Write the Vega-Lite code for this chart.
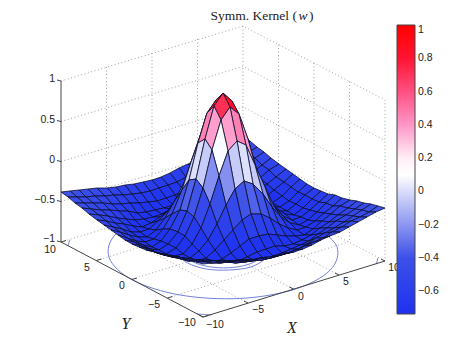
{"$schema":"https://vega.github.io/schema/vega-lite/v6.json","width":474,"height":355,"padding":0,"autosize":{"type":"none"},"background":"white","view":{"stroke":null},
"datasets":{
"grid":[{"c":1,"p":[[61,81],[243,26],[385,100],[385,261],[243,187],[61,242]]},{"c":2,"p":[[243,26],[243,187]]},{"c":3,"p":[[61,121.5],[243,66.5],[385,140.5]]},{"c":4,"p":[[61,161.5],[243,107],[385,181]]},{"c":5,"p":[[61,201.5],[243,147],[385,221]]},{"c":6,"p":[[106.5,67],[106.5,228]]},{"c":7,"p":[[152,53],[152,214]]},{"c":8,"p":[[197.5,39],[197.5,200]]},{"c":9,"p":[[278.5,44.5],[278.5,205.5]]},{"c":10,"p":[[314,63],[314,224]]},{"c":11,"p":[[349.5,81.5],[349.5,242.5]]},{"c":12,"p":[[248,303],[106,228]]},{"c":13,"p":[[293.5,289],[151.5,214]]},{"c":14,"p":[[339,275],[197,200]]},{"c":15,"p":[[167.5,298],[348.5,242]]},{"c":16,"p":[[132,279],[313,224]]},{"c":17,"p":[[96.5,260.5],[277.5,205]]}],
"rings":[{"c":1,"p":[[313.5,224],[265.9,209],[206.8,205.5],[152,214.5],[116.3,233.5],[109.1,257.5],[132.5,280],[180.1,295],[239.3,298.5],[294,289.5],[329.8,270.5],[336.9,246.5],[313.5,224]]},{"c":2,"p":[[258.3,241],[239.7,235],[216.7,234],[195.3,237],[181.4,245],[178.6,254],[187.7,263],[206.3,269],[229.4,270],[250.7,267],[264.7,259],[267.4,250],[258.3,241]]},{"c":3,"p":[[253.8,242.5],[237.6,237.4],[217.5,236.2],[198.9,239.3],[186.7,245.7],[184.3,253.9],[192.2,261.5],[208.4,266.6],[228.5,267.8],[247.1,264.8],[259.3,258.3],[261.7,250.1],[253.8,242.5]]},{"c":4,"p":[[68.2,246],[68.8,242.9],[70,239.8]]},{"c":5,"p":[[196.8,313.9],[204.4,314.5],[212.1,314.8]]},{"c":6,"p":[[377.8,257.9],[377.2,261.1],[375.9,264.2]]}],
"axes":[{"c":1,"p":[[61,81],[61,242],[203,317],[385,261]]},{"c":2,"p":[[61,81],[57,80]]},{"c":3,"p":[[61,121.5],[57,120.5]]},{"c":4,"p":[[61,161.5],[57,160.5]]},{"c":5,"p":[[61,201.5],[57,200.5]]},{"c":6,"p":[[61,242],[57,241]]},{"c":7,"p":[[96.5,260.5],[101.5,259]]},{"c":8,"p":[[132,279.5],[137,278]]},{"c":9,"p":[[167.5,298],[172.5,296.5]]},{"c":10,"p":[[203,317],[208,315.5]]},{"c":11,"p":[[203,317],[199,315]]},{"c":12,"p":[[248,303],[244,301]]},{"c":13,"p":[[293.5,289],[289.5,287]]},{"c":14,"p":[[339,275],[335,273]]},{"c":15,"p":[[385,261],[381,259]]},{"c":16,"p":[[61,242],[66,240.5]]}],
"cells":[
{"c":1,"v":-0.41,"p":[[241,147],[250,141],[243,136],[234,140]]},{"c":2,"v":-0.44,"p":[[232,152],[241,147],[234,140],[225,145]]},{"c":3,"v":-0.47,"p":[[223,157],[232,152],[225,145],[216,150]]},{"c":4,"v":-0.5,"p":[[214,162],[223,157],[216,150],[207,155]]},{"c":5,"v":-0.53,"p":[[205,167],[214,162],[207,155],[198,160]]},{"c":6,"v":-0.56,"p":[[196,173],[205,167],[198,160],[188,164]]},{"c":7,"v":-0.58,"p":[[186,177],[196,173],[188,164],[179,168]]},{"c":8,"v":-0.6,"p":[[177,182],[186,177],[179,168],[170,173]]},{"c":9,"v":-0.61,"p":[[168,185],[177,182],[170,173],[161,177]]},{"c":10,"v":-0.62,"p":[[159,188],[168,185],[161,177],[152,180]]},{"c":11,"v":-0.61,"p":[[150,191],[159,188],[152,180],[143,182]]},{"c":12,"v":-0.6,"p":[[141,193],[150,191],[143,182],[134,184]]},{"c":13,"v":-0.58,"p":[[132,194],[141,193],[134,184],[125,185]]},{"c":14,"v":-0.56,"p":[[123,195],[132,194],[125,185],[116,187]]},{"c":15,"v":-0.53,"p":[[114,195],[123,195],[116,187],[107,188]]},{"c":16,"v":-0.5,"p":[[105,196],[114,195],[107,188],[97,188]]},{"c":17,"v":-0.47,"p":[[95,196],[105,196],[97,188],[88,189]]},{"c":18,"v":-0.44,"p":[[86,197],[95,196],[88,189],[79,190]]},{"c":19,"v":-0.41,"p":[[77,197],[86,197],[79,190],[70,191]]},{"c":20,"v":-0.39,"p":[[68,197],[77,197],[70,191],[61,192]]},
{"c":21,"v":-0.44,"p":[[248,153],[257,147],[250,141],[241,147]]},{"c":22,"v":-0.48,"p":[[239,158],[248,153],[241,147],[232,152]]},{"c":23,"v":-0.51,"p":[[230,164],[239,158],[232,152],[223,157]]},{"c":24,"v":-0.55,"p":[[221,170],[230,164],[223,157],[214,162]]},{"c":25,"v":-0.59,"p":[[212,176],[221,170],[214,162],[205,167]]},{"c":26,"v":-0.62,"p":[[203,181],[212,176],[205,167],[196,173]]},{"c":27,"v":-0.65,"p":[[194,186],[203,181],[196,173],[186,177]]},{"c":28,"v":-0.68,"p":[[184,191],[194,186],[186,177],[177,182]]},{"c":29,"v":-0.69,"p":[[175,195],[184,191],[177,182],[168,185]]},{"c":30,"v":-0.69,"p":[[166,198],[175,195],[168,185],[159,188]]},{"c":31,"v":-0.69,"p":[[157,201],[166,198],[159,188],[150,191]]},{"c":32,"v":-0.68,"p":[[148,202],[157,201],[150,191],[141,193]]},{"c":33,"v":-0.65,"p":[[139,203],[148,202],[141,193],[132,194]]},{"c":34,"v":-0.62,"p":[[130,203],[139,203],[132,194],[123,195]]},{"c":35,"v":-0.59,"p":[[121,204],[130,203],[123,195],[114,195]]},{"c":36,"v":-0.55,"p":[[112,204],[121,204],[114,195],[105,196]]},{"c":37,"v":-0.51,"p":[[103,203],[112,204],[105,196],[95,196]]},{"c":38,"v":-0.48,"p":[[93,203],[103,203],[95,196],[86,197]]},{"c":39,"v":-0.44,"p":[[84,203],[93,203],[86,197],[77,197]]},{"c":40,"v":-0.41,"p":[[75,203],[84,203],[77,197],[68,197]]},
{"c":41,"v":-0.47,"p":[[255,158],[264,152],[257,147],[248,153]]},{"c":42,"v":-0.51,"p":[[246,165],[255,158],[248,153],[239,158]]},{"c":43,"v":-0.56,"p":[[237,171],[246,165],[239,158],[230,164]]},{"c":44,"v":-0.6,"p":[[228,178],[237,171],[230,164],[221,170]]},{"c":45,"v":-0.65,"p":[[219,183],[228,178],[221,170],[212,176]]},{"c":46,"v":-0.69,"p":[[210,190],[219,183],[212,176],[203,181]]},{"c":47,"v":-0.72,"p":[[201,195],[210,190],[203,181],[194,186]]},{"c":48,"v":-0.73,"p":[[192,199],[201,195],[194,186],[184,191]]},{"c":49,"v":-0.73,"p":[[182,203],[192,199],[184,191],[175,195]]},{"c":50,"v":-0.74,"p":[[173,205],[182,203],[175,195],[166,198]]},{"c":51,"v":-0.73,"p":[[164,208],[173,205],[166,198],[157,201]]},{"c":52,"v":-0.73,"p":[[155,210],[164,208],[157,201],[148,202]]},{"c":53,"v":-0.72,"p":[[146,212],[155,210],[148,202],[139,203]]},{"c":54,"v":-0.69,"p":[[137,213],[146,212],[139,203],[130,203]]},{"c":55,"v":-0.65,"p":[[128,211],[137,213],[130,203],[121,204]]},{"c":56,"v":-0.6,"p":[[119,211],[128,211],[121,204],[112,204]]},{"c":57,"v":-0.56,"p":[[110,210],[119,211],[112,204],[103,203]]},{"c":58,"v":-0.51,"p":[[101,210],[110,210],[103,203],[93,203]]},{"c":59,"v":-0.47,"p":[[91,209],[101,210],[93,203],[84,203]]},{"c":60,"v":-0.43,"p":[[82,208],[91,209],[84,203],[75,203]]},
{"c":61,"v":-0.5,"p":[[262,165],[271,158],[264,152],[255,158]]},{"c":62,"v":-0.55,"p":[[253,172],[262,165],[255,158],[246,165]]},{"c":63,"v":-0.6,"p":[[244,178],[253,172],[246,165],[237,171]]},{"c":64,"v":-0.66,"p":[[235,185],[244,178],[237,171],[228,178]]},{"c":65,"v":-0.7,"p":[[226,192],[235,185],[228,178],[219,183]]},{"c":66,"v":-0.73,"p":[[217,197],[226,192],[219,183],[210,190]]},{"c":67,"v":-0.74,"p":[[208,201],[217,197],[210,190],[201,195]]},{"c":68,"v":-0.73,"p":[[199,202],[208,201],[201,195],[192,199]]},{"c":69,"v":-0.71,"p":[[190,203],[199,202],[192,199],[182,203]]},{"c":70,"v":-0.7,"p":[[180,206],[190,203],[182,203],[173,205]]},{"c":71,"v":-0.71,"p":[[171,209],[180,206],[173,205],[164,208]]},{"c":72,"v":-0.73,"p":[[162,214],[171,209],[164,208],[155,210]]},{"c":73,"v":-0.74,"p":[[153,217],[162,214],[155,210],[146,212]]},{"c":74,"v":-0.73,"p":[[144,219],[153,217],[146,212],[137,213]]},{"c":75,"v":-0.7,"p":[[135,220],[144,219],[137,213],[128,211]]},{"c":76,"v":-0.66,"p":[[126,219],[135,220],[128,211],[119,211]]},{"c":77,"v":-0.6,"p":[[117,218],[126,219],[119,211],[110,210]]},{"c":78,"v":-0.55,"p":[[108,216],[117,218],[110,210],[101,210]]},{"c":79,"v":-0.5,"p":[[99,215],[108,216],[101,210],[91,209]]},{"c":80,"v":-0.46,"p":[[89,214],[99,215],[91,209],[82,208]]},
{"c":81,"v":-0.53,"p":[[269,170],[279,164],[271,158],[262,165]]},{"c":82,"v":-0.59,"p":[[260,178],[269,170],[262,165],[253,172]]},{"c":83,"v":-0.65,"p":[[251,185],[260,178],[253,172],[244,178]]},{"c":84,"v":-0.7,"p":[[242,193],[251,185],[244,178],[235,185]]},{"c":85,"v":-0.73,"p":[[233,199],[242,193],[235,185],[226,192]]},{"c":86,"v":-0.73,"p":[[224,200],[233,199],[226,192],[217,197]]},{"c":87,"v":-0.69,"p":[[215,200],[224,200],[217,197],[208,201]]},{"c":88,"v":-0.64,"p":[[206,199],[215,200],[208,201],[199,202]]},{"c":89,"v":-0.59,"p":[[197,198],[206,199],[199,202],[190,203]]},{"c":90,"v":-0.58,"p":[[188,200],[197,198],[190,203],[180,206]]},{"c":91,"v":-0.59,"p":[[178,203],[188,200],[180,206],[171,209]]},{"c":92,"v":-0.64,"p":[[169,210],[178,203],[171,209],[162,214]]},{"c":93,"v":-0.69,"p":[[160,217],[169,210],[162,214],[153,217]]},{"c":94,"v":-0.73,"p":[[151,223],[160,217],[153,217],[144,219]]},{"c":95,"v":-0.73,"p":[[142,227],[151,223],[144,219],[135,220]]},{"c":96,"v":-0.7,"p":[[133,226],[142,227],[135,220],[126,219]]},{"c":97,"v":-0.65,"p":[[124,224],[133,226],[126,219],[117,218]]},{"c":98,"v":-0.59,"p":[[115,223],[124,224],[117,218],[108,216]]},{"c":99,"v":-0.53,"p":[[106,221],[115,223],[108,216],[99,215]]},{"c":100,"v":-0.48,"p":[[97,220],[106,221],[99,215],[89,214]]},
{"c":101,"v":-0.56,"p":[[276,177],[286,169],[279,164],[269,170]]},{"c":102,"v":-0.62,"p":[[267,184],[276,177],[269,170],[260,178]]},{"c":103,"v":-0.69,"p":[[258,193],[267,184],[260,178],[251,185]]},{"c":104,"v":-0.73,"p":[[249,198],[258,193],[251,185],[242,193]]},{"c":105,"v":-0.73,"p":[[240,201],[249,198],[242,193],[233,199]]},{"c":106,"v":-0.67,"p":[[231,199],[240,201],[233,199],[224,200]]},{"c":107,"v":-0.58,"p":[[222,195],[231,199],[224,200],[215,200]]},{"c":108,"v":-0.48,"p":[[213,190],[222,195],[215,200],[206,199]]},{"c":109,"v":-0.39,"p":[[204,185],[213,190],[206,199],[197,198]]},{"c":110,"v":-0.35,"p":[[195,185],[204,185],[197,198],[188,200]]},{"c":111,"v":-0.39,"p":[[186,191],[195,185],[188,200],[178,203]]},{"c":112,"v":-0.48,"p":[[176,201],[186,191],[178,203],[169,210]]},{"c":113,"v":-0.58,"p":[[167,212],[176,201],[169,210],[160,217]]},{"c":114,"v":-0.67,"p":[[158,221],[167,212],[160,217],[151,223]]},{"c":115,"v":-0.73,"p":[[149,229],[158,221],[151,223],[142,227]]},{"c":116,"v":-0.73,"p":[[140,232],[149,229],[142,227],[133,226]]},{"c":117,"v":-0.69,"p":[[131,232],[140,232],[133,226],[124,224]]},{"c":118,"v":-0.62,"p":[[122,229],[131,232],[124,224],[115,223]]},{"c":119,"v":-0.56,"p":[[113,227],[122,229],[115,223],[106,221]]},{"c":120,"v":-0.5,"p":[[104,225],[113,227],[106,221],[97,220]]},
{"c":121,"v":-0.58,"p":[[284,182],[293,174],[286,169],[276,177]]},{"c":122,"v":-0.65,"p":[[274,190],[284,182],[276,177],[267,184]]},{"c":123,"v":-0.72,"p":[[265,198],[274,190],[267,184],[258,193]]},{"c":124,"v":-0.74,"p":[[256,203],[265,198],[258,193],[249,198]]},{"c":125,"v":-0.69,"p":[[247,202],[256,203],[249,198],[240,201]]},{"c":126,"v":-0.58,"p":[[238,196],[247,202],[240,201],[231,199]]},{"c":127,"v":-0.42,"p":[[229,185],[238,196],[231,199],[222,195]]},{"c":128,"v":-0.22,"p":[[220,172],[229,185],[222,195],[213,190]]},{"c":129,"v":-0.05,"p":[[211,162],[220,172],[213,190],[204,185]]},{"c":130,"v":0.01,"p":[[202,160],[211,162],[204,185],[195,185]]},{"c":131,"v":-0.05,"p":[[193,168],[202,160],[195,185],[186,191]]},{"c":132,"v":-0.22,"p":[[184,183],[193,168],[186,191],[176,201]]},{"c":133,"v":-0.42,"p":[[174,202],[184,183],[176,201],[167,212]]},{"c":134,"v":-0.58,"p":[[165,218],[174,202],[167,212],[158,221]]},{"c":135,"v":-0.69,"p":[[156,230],[165,218],[158,221],[149,229]]},{"c":136,"v":-0.74,"p":[[147,237],[156,230],[149,229],[140,232]]},{"c":137,"v":-0.72,"p":[[138,237],[147,237],[140,232],[131,232]]},{"c":138,"v":-0.65,"p":[[129,235],[138,237],[131,232],[122,229]]},{"c":139,"v":-0.58,"p":[[120,232],[129,235],[122,229],[113,227]]},{"c":140,"v":-0.52,"p":[[111,230],[120,232],[113,227],[104,225]]},
{"c":141,"v":-0.6,"p":[[291,187],[300,179],[293,174],[284,182]]},{"c":142,"v":-0.68,"p":[[282,196],[291,187],[284,182],[274,190]]},{"c":143,"v":-0.73,"p":[[272,203],[282,196],[274,190],[265,198]]},{"c":144,"v":-0.73,"p":[[263,206],[272,203],[265,198],[256,203]]},{"c":145,"v":-0.64,"p":[[254,201],[263,206],[256,203],[247,202]]},{"c":146,"v":-0.48,"p":[[245,191],[254,201],[247,202],[238,196]]},{"c":147,"v":-0.22,"p":[[236,173],[245,191],[238,196],[229,185]]},{"c":148,"v":0.09,"p":[[227,151],[236,173],[229,185],[220,172]]},{"c":149,"v":0.38,"p":[[218,131],[227,151],[220,172],[211,162]]},{"c":150,"v":0.46,"p":[[209,126],[218,131],[211,162],[202,160]]},{"c":151,"v":0.38,"p":[[200,136],[209,126],[202,160],[193,168]]},{"c":152,"v":0.09,"p":[[191,162],[200,136],[193,168],[184,183]]},{"c":153,"v":-0.22,"p":[[182,190],[191,162],[184,183],[174,202]]},{"c":154,"v":-0.48,"p":[[172,214],[182,190],[174,202],[165,218]]},{"c":155,"v":-0.64,"p":[[163,229],[172,214],[165,218],[156,230]]},{"c":156,"v":-0.73,"p":[[154,239],[163,229],[156,230],[147,237]]},{"c":157,"v":-0.73,"p":[[145,242],[154,239],[147,237],[138,237]]},{"c":158,"v":-0.68,"p":[[136,241],[145,242],[138,237],[129,235]]},{"c":159,"v":-0.6,"p":[[127,238],[136,241],[129,235],[120,232]]},{"c":160,"v":-0.54,"p":[[118,235],[127,238],[120,232],[111,230]]},
{"c":161,"v":-0.61,"p":[[298,192],[307,184],[300,179],[291,187]]},{"c":162,"v":-0.69,"p":[[289,201],[298,192],[291,187],[282,196]]},{"c":163,"v":-0.73,"p":[[280,207],[289,201],[282,196],[272,203]]},{"c":164,"v":-0.71,"p":[[270,207],[280,207],[272,203],[263,206]]},{"c":165,"v":-0.59,"p":[[261,201],[270,207],[263,206],[254,201]]},{"c":166,"v":-0.39,"p":[[252,188],[261,201],[254,201],[245,191]]},{"c":167,"v":-0.05,"p":[[243,164],[252,188],[245,191],[236,173]]},{"c":168,"v":0.38,"p":[[234,131],[243,164],[236,173],[227,151]]},{"c":169,"v":0.71,"p":[[225,107],[234,131],[227,151],[218,131]]},{"c":170,"v":0.84,"p":[[216,100],[225,107],[218,131],[209,126]]},{"c":171,"v":0.71,"p":[[207,113],[216,100],[209,126],[200,136]]},{"c":172,"v":0.38,"p":[[198,143],[207,113],[200,136],[191,162]]},{"c":173,"v":-0.05,"p":[[189,180],[198,143],[191,162],[182,190]]},{"c":174,"v":-0.39,"p":[[180,210],[189,180],[182,190],[172,214]]},{"c":175,"v":-0.59,"p":[[170,229],[180,210],[172,214],[163,229]]},{"c":176,"v":-0.71,"p":[[161,241],[170,229],[163,229],[154,239]]},{"c":177,"v":-0.73,"p":[[152,247],[161,241],[154,239],[145,242]]},{"c":178,"v":-0.69,"p":[[143,245],[152,247],[145,242],[136,241]]},{"c":179,"v":-0.61,"p":[[134,242],[143,245],[136,241],[127,238]]},{"c":180,"v":-0.55,"p":[[125,240],[134,242],[127,238],[118,235]]},
{"c":181,"v":-0.62,"p":[[305,195],[314,188],[307,184],[298,192]]},{"c":182,"v":-0.69,"p":[[296,204],[305,195],[298,192],[289,201]]},{"c":183,"v":-0.74,"p":[[287,211],[296,204],[289,201],[280,207]]},{"c":184,"v":-0.7,"p":[[278,211],[287,211],[280,207],[270,207]]},{"c":185,"v":-0.58,"p":[[269,204],[278,211],[270,207],[261,201]]},{"c":186,"v":-0.35,"p":[[259,188],[269,204],[261,201],[252,188]]},{"c":187,"v":0.01,"p":[[250,162],[259,188],[252,188],[243,164]]},{"c":188,"v":0.46,"p":[[241,128],[250,162],[243,164],[234,131]]},{"c":189,"v":0.84,"p":[[232,101],[241,128],[234,131],[225,107]]},{"c":190,"v":1,"p":[[223,93],[232,101],[225,107],[216,100]]},{"c":191,"v":0.84,"p":[[214,106],[223,93],[216,100],[207,113]]},{"c":192,"v":0.46,"p":[[205,139],[214,106],[207,113],[198,143]]},{"c":193,"v":0.01,"p":[[196,179],[205,139],[198,143],[189,180]]},{"c":194,"v":-0.35,"p":[[187,211],[196,179],[189,180],[180,210]]},{"c":195,"v":-0.58,"p":[[178,232],[187,211],[180,210],[170,229]]},{"c":196,"v":-0.7,"p":[[168,244],[178,232],[170,229],[161,241]]},{"c":197,"v":-0.74,"p":[[159,250],[168,244],[161,241],[152,247]]},{"c":198,"v":-0.69,"p":[[150,249],[159,250],[152,247],[143,245]]},{"c":199,"v":-0.62,"p":[[141,246],[150,249],[143,245],[134,242]]},{"c":200,"v":-0.55,"p":[[132,244],[141,246],[134,242],[125,240]]},
{"c":201,"v":-0.61,"p":[[312,199],[321,191],[314,188],[305,195]]},{"c":202,"v":-0.69,"p":[[303,208],[312,199],[305,195],[296,204]]},{"c":203,"v":-0.73,"p":[[294,215],[303,208],[296,204],[287,211]]},{"c":204,"v":-0.71,"p":[[285,214],[294,215],[287,211],[278,211]]},{"c":205,"v":-0.59,"p":[[276,208],[285,214],[278,211],[269,204]]},{"c":206,"v":-0.39,"p":[[266,195],[276,208],[269,204],[259,188]]},{"c":207,"v":-0.05,"p":[[257,171],[266,195],[259,188],[250,162]]},{"c":208,"v":0.38,"p":[[248,139],[257,171],[250,162],[241,128]]},{"c":209,"v":0.71,"p":[[239,114],[248,139],[241,128],[232,101]]},{"c":210,"v":0.84,"p":[[230,107],[239,114],[232,101],[223,93]]},{"c":211,"v":0.71,"p":[[221,120],[230,107],[223,93],[214,106]]},{"c":212,"v":0.38,"p":[[212,150],[221,120],[214,106],[205,139]]},{"c":213,"v":-0.05,"p":[[203,188],[212,150],[205,139],[196,179]]},{"c":214,"v":-0.39,"p":[[194,217],[203,188],[196,179],[187,211]]},{"c":215,"v":-0.59,"p":[[185,236],[194,217],[187,211],[178,232]]},{"c":216,"v":-0.71,"p":[[176,248],[185,236],[178,232],[168,244]]},{"c":217,"v":-0.73,"p":[[166,254],[176,248],[168,244],[159,250]]},{"c":218,"v":-0.69,"p":[[157,253],[166,254],[159,250],[150,249]]},{"c":219,"v":-0.61,"p":[[148,249],[157,253],[150,249],[141,246]]},{"c":220,"v":-0.55,"p":[[139,247],[148,249],[141,246],[132,244]]},
{"c":221,"v":-0.6,"p":[[319,202],[328,194],[321,191],[312,199]]},{"c":222,"v":-0.68,"p":[[310,210],[319,202],[312,199],[303,208]]},{"c":223,"v":-0.73,"p":[[301,217],[310,210],[303,208],[294,215]]},{"c":224,"v":-0.73,"p":[[292,220],[301,217],[294,215],[285,214]]},{"c":225,"v":-0.64,"p":[[283,216],[292,220],[285,214],[276,208]]},{"c":226,"v":-0.48,"p":[[274,206],[283,216],[276,208],[266,195]]},{"c":227,"v":-0.22,"p":[[265,187],[274,206],[266,195],[257,171]]},{"c":228,"v":0.09,"p":[[255,165],[265,187],[257,171],[248,139]]},{"c":229,"v":0.38,"p":[[246,145],[255,165],[248,139],[239,114]]},{"c":230,"v":0.46,"p":[[237,141],[246,145],[239,114],[230,107]]},{"c":231,"v":0.38,"p":[[228,151],[237,141],[230,107],[221,120]]},{"c":232,"v":0.09,"p":[[219,176],[228,151],[221,120],[212,150]]},{"c":233,"v":-0.22,"p":[[210,204],[219,176],[212,150],[203,188]]},{"c":234,"v":-0.48,"p":[[201,228],[210,204],[203,188],[194,217]]},{"c":235,"v":-0.64,"p":[[192,244],[201,228],[194,217],[185,236]]},{"c":236,"v":-0.73,"p":[[183,254],[192,244],[185,236],[176,248]]},{"c":237,"v":-0.73,"p":[[174,256],[183,254],[176,248],[166,254]]},{"c":238,"v":-0.68,"p":[[164,255],[174,256],[166,254],[157,253]]},{"c":239,"v":-0.6,"p":[[155,252],[164,255],[157,253],[148,249]]},{"c":240,"v":-0.54,"p":[[146,250],[155,252],[148,249],[139,247]]},
{"c":241,"v":-0.58,"p":[[326,203],[335,195],[328,194],[319,202]]},{"c":242,"v":-0.65,"p":[[317,212],[326,203],[319,202],[310,210]]},{"c":243,"v":-0.72,"p":[[308,220],[317,212],[310,210],[301,217]]},{"c":244,"v":-0.74,"p":[[299,225],[308,220],[301,217],[292,220]]},{"c":245,"v":-0.69,"p":[[290,223],[299,225],[292,220],[283,216]]},{"c":246,"v":-0.58,"p":[[281,217],[290,223],[283,216],[274,206]]},{"c":247,"v":-0.42,"p":[[272,207],[281,217],[274,206],[265,187]]},{"c":248,"v":-0.22,"p":[[263,194],[272,207],[265,187],[255,165]]},{"c":249,"v":-0.05,"p":[[253,184],[263,194],[255,165],[246,145]]},{"c":250,"v":0.01,"p":[[244,181],[253,184],[246,145],[237,141]]},{"c":251,"v":-0.05,"p":[[235,189],[244,181],[237,141],[228,151]]},{"c":252,"v":-0.22,"p":[[226,205],[235,189],[228,151],[219,176]]},{"c":253,"v":-0.42,"p":[[217,224],[226,205],[219,176],[210,204]]},{"c":254,"v":-0.58,"p":[[208,240],[217,224],[210,204],[201,228]]},{"c":255,"v":-0.69,"p":[[199,251],[208,240],[201,228],[192,244]]},{"c":256,"v":-0.74,"p":[[190,258],[199,251],[192,244],[183,254]]},{"c":257,"v":-0.72,"p":[[181,259],[190,258],[183,254],[174,256]]},{"c":258,"v":-0.65,"p":[[172,257],[181,259],[174,256],[164,255]]},{"c":259,"v":-0.58,"p":[[162,254],[172,257],[164,255],[155,252]]},{"c":260,"v":-0.52,"p":[[153,251],[162,254],[155,252],[146,250]]},
{"c":261,"v":-0.56,"p":[[333,206],[342,198],[335,195],[326,203]]},{"c":262,"v":-0.62,"p":[[324,213],[333,206],[326,203],[317,212]]},{"c":263,"v":-0.69,"p":[[315,221],[324,213],[317,212],[308,220]]},{"c":264,"v":-0.73,"p":[[306,227],[315,221],[308,220],[299,225]]},{"c":265,"v":-0.73,"p":[[297,230],[306,227],[299,225],[290,223]]},{"c":266,"v":-0.67,"p":[[288,228],[297,230],[290,223],[281,217]]},{"c":267,"v":-0.58,"p":[[279,224],[288,228],[281,217],[272,207]]},{"c":268,"v":-0.48,"p":[[270,218],[279,224],[272,207],[263,194]]},{"c":269,"v":-0.39,"p":[[261,214],[270,218],[263,194],[253,184]]},{"c":270,"v":-0.35,"p":[[251,214],[261,214],[253,184],[244,181]]},{"c":271,"v":-0.39,"p":[[242,220],[251,214],[244,181],[235,189]]},{"c":272,"v":-0.48,"p":[[233,230],[242,220],[235,189],[226,205]]},{"c":273,"v":-0.58,"p":[[224,240],[233,230],[226,205],[217,224]]},{"c":274,"v":-0.67,"p":[[215,250],[224,240],[217,224],[208,240]]},{"c":275,"v":-0.73,"p":[[206,258],[215,250],[208,240],[199,251]]},{"c":276,"v":-0.73,"p":[[197,261],[206,258],[199,251],[190,258]]},{"c":277,"v":-0.69,"p":[[188,261],[197,261],[190,258],[181,259]]},{"c":278,"v":-0.62,"p":[[179,257],[188,261],[181,259],[172,257]]},{"c":279,"v":-0.56,"p":[[170,256],[179,257],[172,257],[162,254]]},{"c":280,"v":-0.5,"p":[[160,254],[170,256],[162,254],[153,251]]},
{"c":281,"v":-0.53,"p":[[340,206],[350,200],[342,198],[333,206]]},{"c":282,"v":-0.59,"p":[[331,214],[340,206],[333,206],[324,213]]},{"c":283,"v":-0.65,"p":[[322,221],[331,214],[324,213],[315,221]]},{"c":284,"v":-0.7,"p":[[313,229],[322,221],[315,221],[306,227]]},{"c":285,"v":-0.73,"p":[[304,235],[313,229],[306,227],[297,230]]},{"c":286,"v":-0.73,"p":[[295,236],[304,235],[297,230],[288,228]]},{"c":287,"v":-0.69,"p":[[286,236],[295,236],[288,228],[279,224]]},{"c":288,"v":-0.64,"p":[[277,235],[286,236],[279,224],[270,218]]},{"c":289,"v":-0.59,"p":[[268,234],[277,235],[270,218],[261,214]]},{"c":290,"v":-0.58,"p":[[259,236],[268,234],[261,214],[251,214]]},{"c":291,"v":-0.59,"p":[[249,239],[259,236],[251,214],[242,220]]},{"c":292,"v":-0.64,"p":[[240,246],[249,239],[242,220],[233,230]]},{"c":293,"v":-0.69,"p":[[231,253],[240,246],[233,230],[224,240]]},{"c":294,"v":-0.73,"p":[[222,259],[231,253],[224,240],[215,250]]},{"c":295,"v":-0.73,"p":[[213,263],[222,259],[215,250],[206,258]]},{"c":296,"v":-0.7,"p":[[204,262],[213,263],[206,258],[197,261]]},{"c":297,"v":-0.65,"p":[[195,260],[204,262],[197,261],[188,261]]},{"c":298,"v":-0.59,"p":[[186,259],[195,260],[188,261],[179,257]]},{"c":299,"v":-0.53,"p":[[177,257],[186,259],[179,257],[170,256]]},{"c":300,"v":-0.48,"p":[[168,256],[177,257],[170,256],[160,254]]},
{"c":301,"v":-0.5,"p":[[348,208],[357,201],[350,200],[340,206]]},{"c":302,"v":-0.55,"p":[[338,215],[348,208],[340,206],[331,214]]},{"c":303,"v":-0.6,"p":[[329,222],[338,215],[331,214],[322,221]]},{"c":304,"v":-0.66,"p":[[320,228],[329,222],[322,221],[313,229]]},{"c":305,"v":-0.7,"p":[[311,235],[320,228],[313,229],[304,235]]},{"c":306,"v":-0.73,"p":[[302,240],[311,235],[304,235],[295,236]]},{"c":307,"v":-0.74,"p":[[293,244],[302,240],[295,236],[286,236]]},{"c":308,"v":-0.73,"p":[[284,246],[293,244],[286,236],[277,235]]},{"c":309,"v":-0.71,"p":[[275,246],[284,246],[277,235],[268,234]]},{"c":310,"v":-0.7,"p":[[266,249],[275,246],[268,234],[259,236]]},{"c":311,"v":-0.71,"p":[[257,252],[266,249],[259,236],[249,239]]},{"c":312,"v":-0.73,"p":[[247,257],[257,252],[249,239],[240,246]]},{"c":313,"v":-0.74,"p":[[238,261],[247,257],[240,246],[231,253]]},{"c":314,"v":-0.73,"p":[[229,262],[238,261],[231,253],[222,259]]},{"c":315,"v":-0.7,"p":[[220,263],[229,262],[222,259],[213,263]]},{"c":316,"v":-0.66,"p":[[211,262],[220,263],[213,263],[204,262]]},{"c":317,"v":-0.6,"p":[[202,261],[211,262],[204,262],[195,260]]},{"c":318,"v":-0.55,"p":[[193,260],[202,261],[195,260],[186,259]]},{"c":319,"v":-0.5,"p":[[184,258],[193,260],[186,259],[177,257]]},{"c":320,"v":-0.46,"p":[[175,257],[184,258],[177,257],[168,256]]},
{"c":321,"v":-0.47,"p":[[355,209],[364,203],[357,201],[348,208]]},{"c":322,"v":-0.51,"p":[[346,215],[355,209],[348,208],[338,215]]},{"c":323,"v":-0.56,"p":[[336,221],[346,215],[338,215],[329,222]]},{"c":324,"v":-0.6,"p":[[327,228],[336,221],[329,222],[320,228]]},{"c":325,"v":-0.65,"p":[[318,234],[327,228],[320,228],[311,235]]},{"c":326,"v":-0.69,"p":[[309,241],[318,234],[311,235],[302,240]]},{"c":327,"v":-0.72,"p":[[300,245],[309,241],[302,240],[293,244]]},{"c":328,"v":-0.73,"p":[[291,249],[300,245],[293,244],[284,246]]},{"c":329,"v":-0.73,"p":[[282,253],[291,249],[284,246],[275,246]]},{"c":330,"v":-0.74,"p":[[273,256],[282,253],[275,246],[266,249]]},{"c":331,"v":-0.73,"p":[[264,259],[273,256],[266,249],[257,252]]},{"c":332,"v":-0.73,"p":[[254,260],[264,259],[257,252],[247,257]]},{"c":333,"v":-0.72,"p":[[245,262],[254,260],[247,257],[238,261]]},{"c":334,"v":-0.69,"p":[[236,263],[245,262],[238,261],[229,262]]},{"c":335,"v":-0.65,"p":[[227,262],[236,263],[229,262],[220,263]]},{"c":336,"v":-0.6,"p":[[218,262],[227,262],[220,263],[211,262]]},{"c":337,"v":-0.56,"p":[[209,260],[218,262],[211,262],[202,261]]},{"c":338,"v":-0.51,"p":[[200,260],[209,260],[202,261],[193,260]]},{"c":339,"v":-0.47,"p":[[191,259],[200,260],[193,260],[184,258]]},{"c":340,"v":-0.43,"p":[[182,259],[191,259],[184,258],[175,257]]},
{"c":341,"v":-0.44,"p":[[362,210],[371,204],[364,203],[355,209]]},{"c":342,"v":-0.48,"p":[[353,216],[362,210],[355,209],[346,215]]},{"c":343,"v":-0.51,"p":[[344,222],[353,216],[346,215],[336,221]]},{"c":344,"v":-0.55,"p":[[334,228],[344,222],[336,221],[327,228]]},{"c":345,"v":-0.59,"p":[[325,233],[334,228],[327,228],[318,234]]},{"c":346,"v":-0.62,"p":[[316,238],[325,233],[318,234],[309,241]]},{"c":347,"v":-0.65,"p":[[307,244],[316,238],[309,241],[300,245]]},{"c":348,"v":-0.68,"p":[[298,249],[307,244],[300,245],[291,249]]},{"c":349,"v":-0.69,"p":[[289,253],[298,249],[291,249],[282,253]]},{"c":350,"v":-0.69,"p":[[280,255],[289,253],[282,253],[273,256]]},{"c":351,"v":-0.69,"p":[[271,258],[280,255],[273,256],[264,259]]},{"c":352,"v":-0.68,"p":[[262,260],[271,258],[264,259],[254,260]]},{"c":353,"v":-0.65,"p":[[252,261],[262,260],[254,260],[245,262]]},{"c":354,"v":-0.62,"p":[[243,261],[252,261],[245,262],[236,263]]},{"c":355,"v":-0.59,"p":[[234,261],[243,261],[236,263],[227,262]]},{"c":356,"v":-0.55,"p":[[225,261],[234,261],[227,262],[218,262]]},{"c":357,"v":-0.51,"p":[[216,261],[225,261],[218,262],[209,260]]},{"c":358,"v":-0.48,"p":[[207,261],[216,261],[209,260],[200,260]]},{"c":359,"v":-0.44,"p":[[198,261],[207,261],[200,260],[191,259]]},{"c":360,"v":-0.41,"p":[[189,260],[198,261],[191,259],[182,259]]},
{"c":361,"v":-0.41,"p":[[369,212],[378,206],[371,204],[362,210]]},{"c":362,"v":-0.44,"p":[[360,217],[369,212],[362,210],[353,216]]},{"c":363,"v":-0.47,"p":[[351,221],[360,217],[353,216],[344,222]]},{"c":364,"v":-0.5,"p":[[342,227],[351,221],[344,222],[334,228]]},{"c":365,"v":-0.53,"p":[[332,232],[342,227],[334,228],[325,233]]},{"c":366,"v":-0.56,"p":[[323,238],[332,232],[325,233],[316,238]]},{"c":367,"v":-0.58,"p":[[314,242],[323,238],[316,238],[307,244]]},{"c":368,"v":-0.6,"p":[[305,246],[314,242],[307,244],[298,249]]},{"c":369,"v":-0.61,"p":[[296,250],[305,246],[298,249],[289,253]]},{"c":370,"v":-0.62,"p":[[287,253],[296,250],[289,253],[280,255]]},{"c":371,"v":-0.61,"p":[[278,256],[287,253],[280,255],[271,258]]},{"c":372,"v":-0.6,"p":[[269,258],[278,256],[271,258],[262,260]]},{"c":373,"v":-0.58,"p":[[260,258],[269,258],[262,260],[252,261]]},{"c":374,"v":-0.56,"p":[[251,260],[260,258],[252,261],[243,261]]},{"c":375,"v":-0.53,"p":[[241,260],[251,260],[243,261],[234,261]]},{"c":376,"v":-0.5,"p":[[232,261],[241,260],[234,261],[225,261]]},{"c":377,"v":-0.47,"p":[[223,261],[232,261],[225,261],[216,261]]},{"c":378,"v":-0.44,"p":[[214,261],[223,261],[216,261],[207,261]]},{"c":379,"v":-0.41,"p":[[205,262],[214,261],[207,261],[198,261]]},{"c":380,"v":-0.39,"p":[[196,262],[205,262],[198,261],[189,260]]},
{"c":381,"v":-0.39,"p":[[376,212],[385,208],[378,206],[369,212]]},{"c":382,"v":-0.41,"p":[[367,217],[376,212],[369,212],[360,217]]},{"c":383,"v":-0.43,"p":[[358,222],[367,217],[360,217],[351,221]]},{"c":384,"v":-0.46,"p":[[349,227],[358,222],[351,221],[342,227]]},{"c":385,"v":-0.48,"p":[[340,232],[349,227],[342,227],[332,232]]},{"c":386,"v":-0.5,"p":[[330,236],[340,232],[332,232],[323,238]]},{"c":387,"v":-0.52,"p":[[321,240],[330,236],[323,238],[314,242]]},{"c":388,"v":-0.54,"p":[[312,245],[321,240],[314,242],[305,246]]},{"c":389,"v":-0.55,"p":[[303,249],[312,245],[305,246],[296,250]]},{"c":390,"v":-0.55,"p":[[294,252],[303,249],[296,250],[287,253]]},{"c":391,"v":-0.55,"p":[[285,254],[294,252],[287,253],[278,256]]},{"c":392,"v":-0.54,"p":[[276,256],[285,254],[278,256],[269,258]]},{"c":393,"v":-0.52,"p":[[267,257],[276,256],[269,258],[260,258]]},{"c":394,"v":-0.5,"p":[[258,259],[267,257],[260,258],[251,260]]},{"c":395,"v":-0.48,"p":[[248,260],[258,259],[251,260],[241,260]]},{"c":396,"v":-0.46,"p":[[239,260],[248,260],[241,260],[232,261]]},{"c":397,"v":-0.43,"p":[[230,261],[239,260],[232,261],[223,261]]},{"c":398,"v":-0.41,"p":[[221,262],[230,261],[223,261],[214,261]]},{"c":399,"v":-0.39,"p":[[212,263],[221,262],[214,261],[205,262]]},{"c":400,"v":-0.36,"p":[[203,264],[212,263],[205,262],[196,262]]}
],
"zlabels":[{"t":"1","x":55,"y":79},{"t":"0.5","x":55,"y":120},{"t":"0","x":55,"y":160},{"t":"−0.5","x":55,"y":200},{"t":"−1","x":55,"y":239}],
"ticks":[{"t":"10","x":50,"y":250},{"t":"5","x":87,"y":268},{"t":"0","x":122,"y":286},{"t":"−5","x":154,"y":305},{"t":"−10","x":187,"y":323},{"t":"−10","x":215,"y":325},{"t":"−5","x":258,"y":310},{"t":"0","x":301,"y":297},{"t":"5","x":346,"y":282},{"t":"10","x":394,"y":268}],
"serif":[{"t":"Symm. Kernel (","x":297,"y":16}],
"serif2":[{"t":")","x":309,"y":16}],
"ital":[{"t":"w","x":303,"y":16,"s":13.5},{"t":"Y","x":126,"y":324,"s":16},{"t":"X","x":292,"y":328,"s":16}],
"cbticks":[{"c":1,"p":[[397,25.7],[400,25.7]]},{"c":2,"p":[[415,25.7],[412,25.7]]},{"c":3,"p":[[397,58.9],[400,58.9]]},{"c":4,"p":[[415,58.9],[412,58.9]]},{"c":5,"p":[[397,92],[400,92]]},{"c":6,"p":[[415,92],[412,92]]},{"c":7,"p":[[397,125.3],[400,125.3]]},{"c":8,"p":[[415,125.3],[412,125.3]]},{"c":9,"p":[[397,158.5],[400,158.5]]},{"c":10,"p":[[415,158.5],[412,158.5]]},{"c":11,"p":[[397,191.7],[400,191.7]]},{"c":12,"p":[[415,191.7],[412,191.7]]},{"c":13,"p":[[397,224.9],[400,224.9]]},{"c":14,"p":[[415,224.9],[412,224.9]]},{"c":15,"p":[[397,258.1],[400,258.1]]},{"c":16,"p":[[415,258.1],[412,258.1]]},{"c":17,"p":[[397,291.3],[400,291.3]]},{"c":18,"p":[[415,291.3],[412,291.3]]}]
},
"encoding":{"x":{"field":"p[0]","type":"quantitative","scale":{"domain":[0,474],"nice":false,"zero":false},"axis":null},"y":{"field":"p[1]","type":"quantitative","scale":{"domain":[355,0],"nice":false,"zero":false},"axis":null}},
"layer":[
{"data":{"name":"grid"},"transform":[{"flatten":["p"]}],"mark":{"type":"line","order":null,"stroke":"#8c8c8c","strokeWidth":0.8,"strokeDash":[1,2.5]},"encoding":{"detail":{"field":"c"}}},
{"data":{"name":"rings"},"transform":[{"flatten":["p"]}],"mark":{"type":"line","order":null,"stroke":"#7480dc","strokeWidth":1,"interpolate":"cardinal","tension":0},"encoding":{"detail":{"field":"c"}}},
{"data":{"name":"axes"},"transform":[{"flatten":["p"]}],"mark":{"type":"line","order":null,"stroke":"#444","strokeWidth":1},"encoding":{"detail":{"field":"c"}}},
{"data":{"name":"cells"},"transform":[{"flatten":["p"]}],"mark":{"type":"line","order":null,"filled":true,"stroke":"#0c0f30","strokeWidth":0.8,"strokeJoin":"round","interpolate":"linear-closed"},"encoding":{"detail":{"field":"c"},"color":{"field":"v","type":"quantitative","scale":{"domain":[-0.736,-0.4,-0.2,0.1,0.16,0.4,0.6,0.8,1],"range":["#1e32f0","#3c50e8","#8c96f0","#ffffff","#ffffff","#ff96c8","#ff5082","#ff1432","#ff0000"],"interpolate":"rgb"},"legend":{"orient":"none","legendX":397,"legendY":25,"direction":"vertical","title":null,"format":"~g","gradientLength":289,"gradientThickness":18,"gradientStrokeColor":"#444","gradientStrokeWidth":1,"values":[-0.6,-0.4,-0.2,0,0.2,0.4,0.6,0.8,1],"labelFont":"Liberation Sans","labelFontSize":10.5,"labelColor":"#222","labelOffset":3}}}},
{"data":{"name":"cbticks"},"transform":[{"flatten":["p"]}],"mark":{"type":"line","order":null,"stroke":"#444","strokeWidth":0.8},"encoding":{"detail":{"field":"c"}}},
{"data":{"name":"ticks"},"mark":{"type":"text","font":"Liberation Sans","fontSize":10.5,"fill":"#222","align":"center","baseline":"middle"},"encoding":{"x":{"field":"x","type":"quantitative"},"y":{"field":"y","type":"quantitative"},"text":{"field":"t"}}},
{"data":{"name":"zlabels"},"mark":{"type":"text","font":"Liberation Sans","fontSize":10.5,"fill":"#222","align":"right","baseline":"middle"},"encoding":{"x":{"field":"x","type":"quantitative"},"y":{"field":"y","type":"quantitative"},"text":{"field":"t"}}},
{"data":{"name":"serif"},"mark":{"type":"text","font":"Liberation Serif","fontSize":13.5,"fill":"#222","align":"right","baseline":"middle"},"encoding":{"x":{"field":"x","type":"quantitative"},"y":{"field":"y","type":"quantitative"},"text":{"field":"t"}}},
{"data":{"name":"serif2"},"mark":{"type":"text","font":"Liberation Serif","fontSize":13.5,"fill":"#222","align":"left","baseline":"middle"},"encoding":{"x":{"field":"x","type":"quantitative"},"y":{"field":"y","type":"quantitative"},"text":{"field":"t"}}},
{"data":{"name":"ital"},"mark":{"type":"text","font":"Liberation Serif","fontStyle":"italic","fill":"#222","align":"center","baseline":"middle"},"encoding":{"x":{"field":"x","type":"quantitative"},"y":{"field":"y","type":"quantitative"},"text":{"field":"t"},"size":{"field":"s","type":"quantitative","scale":null}}}
]}
